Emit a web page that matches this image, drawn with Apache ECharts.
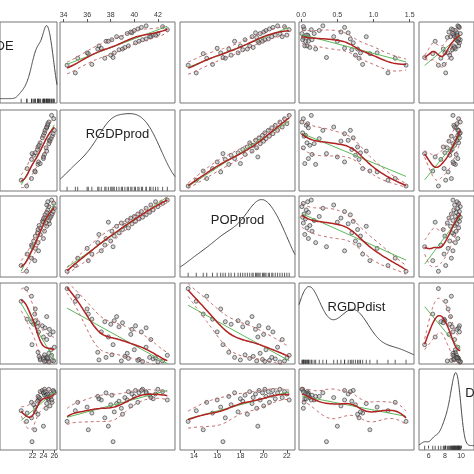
<!DOCTYPE html><html><head><meta charset="utf-8">
<script src="https://cdn.jsdelivr.net/npm/echarts@6/dist/echarts.min.js"></script>
<style>html,body{margin:0;background:#fff}#c{width:474px;height:474px}</style></head><body><div id="c"></div>
<script>
const varNames=['GDE','RGDPprod','POPprod','RGDPdist','Dist'];
const GDE=[20.9,19.9,22.4,21.8,21.0,23.1,22.5,21.8,23.0,22.2,24.0,22.5,23.4,22.9,24.2,23.0,23.4,24.6,23.2,25.1,24.5,23.8,25.0,24.0,25.2,24.2,25.4,24.3,25.6,24.6,25.8,24.8,26.0,25.0,24.6,25.9,24.8,25.5,21.9,24.0];
const RGDPprod=[34.3,35.0,36.1,35.2,36.4,37.2,36.0,37.5,36.9,38.0,37.6,38.3,37.0,38.7,38.1,39.0,39.5,38.5,39.2,39.8,38.9,40.1,39.4,40.4,39.7,40.7,40.0,41.0,40.3,41.3,40.6,41.6,41.0,42.0,41.4,42.4,41.8,42.8,38.2,37.8];
const POPprod=[13.5,14.2,14.8,15.1,15.6,16.0,16.3,16.7,17.0,17.2,17.5,17.8,18.0,18.2,18.4,18.6,18.8,19.0,19.1,19.3,19.4,19.6,19.7,19.9,20.0,20.1,20.2,20.4,20.5,20.7,20.8,21.0,21.2,21.4,21.6,21.8,22.0,22.2,16.5,19.5];
const RGDPdist=[1.45,1.20,0.95,1.30,0.85,0.60,1.05,0.80,0.20,0.75,0.10,0.82,0.05,0.70,0.15,0.78,0.08,0.90,0.12,0.65,0.03,0.72,0.18,0.06,0.55,0.02,0.25,0.68,0.04,0.10,0.60,0.07,0.30,0.01,0.45,0.03,0.09,0.14,0.35,0.50];
const Dist=[7.2,8.1,6.5,8.8,7.9,9.0,8.4,7.5,9.3,8.6,9.6,8.0,9.1,8.9,9.4,7.8,9.7,8.7,9.2,9.5,8.3,9.8,9.0,9.6,8.5,9.9,9.3,9.7,8.8,9.4,9.8,9.1,9.6,9.9,9.2,9.7,9.5,9.0,5.5,6.8];
const ranges=[[16,26.5],[33.7,43.45],[12.8,22.7],[-0.03,1.56],[4.8,11.6]];
const tickVals=[[22,24,26],[34,36,38,40,42],[14,16,18,20,22],[0,0.5,1,1.5],[6,8,10]];
const vars=[GDE,RGDPprod,POPprod,RGDPdist,Dist];
const colL=[-58,60,180,299,419], rowT=[22,110,196,283,369], W=115, H=81;

function linfit(x,y){const n=x.length;let mx=0,my=0;for(let i=0;i<n;i++){mx+=x[i];my+=y[i];}mx/=n;my/=n;let sxy=0,sxx=0;for(let i=0;i<n;i++){sxy+=(x[i]-mx)*(y[i]-my);sxx+=(x[i]-mx)**2;}const b=sxy/sxx;return [b,my-b*mx];}
function smooth(x,y){const lo=Math.min(...x),hi=Math.max(...x),h=(hi-lo)*0.12;const m=[],up=[],dn=[];
 for(let k=0;k<=30;k++){const x0=lo+(hi-lo)*k/30;let sw=0,swx=0,swy=0,swxx=0,swxy=0;
  for(let i=0;i<x.length;i++){const w=Math.exp(-0.5*((x[i]-x0)/h)**2);sw+=w;swx+=w*x[i];swy+=w*y[i];swxx+=w*x[i]*x[i];swxy+=w*x[i]*y[i];}
  const d=sw*swxx-swx*swx;const b=(sw*swxy-swx*swy)/d;const a=(swy-b*swx)/sw;const f=a+b*x0;
  let sr=0;for(let i=0;i<x.length;i++){const w=Math.exp(-0.5*((x[i]-x0)/h)**2);const r=y[i]-(a+b*x[i]);sr+=w*r*r;}
  const s=Math.sqrt(sr/sw);m.push([x0,f]);up.push([x0,f+s]);dn.push([x0,f-s]);}
 return [m,up,dn];}
function kde(x,r){const n=x.length;let mx=x.reduce((a,b)=>a+b)/n;let sd=Math.sqrt(x.reduce((a,b)=>a+(b-mx)**2,0)/n);const h=1.06*sd*Math.pow(n,-0.2)*0.8;const out=[];
 for(let k=0;k<=60;k++){const x0=r[0]+(r[1]-r[0])*k/60;let s=0;for(const v of x)s+=Math.exp(-0.5*((v-x0)/h)**2);out.push([x0,s/(n*h*2.5066)]);}return out;}

const grid=[],xAxis=[],yAxis=[],series=[],graphic=[];let gi=0;
for(let r=0;r<5;r++)for(let c=0;c<5;c++){
 grid.push({left:colL[c],top:rowT[r],width:W,height:H,show:true,borderColor:'#777',borderWidth:1,backgroundColor:'transparent'});
 const topLab=(r===0&&(c===1||c===3)), botLab=(r===4&&(c===0||c===2||c===4));
 const lab={show:topLab||botLab,fontSize:7,color:'#333',margin:3,customValues:tickVals[c],formatter:v=>c===3?v.toFixed(1):String(v)};
 xAxis.push({gridIndex:gi,type:'value',min:ranges[c][0],max:ranges[c][1],position:topLab?'top':'bottom',
  axisLine:{show:false},splitLine:{show:false},axisTick:{show:topLab||botLab,length:3,customValues:tickVals[c],lineStyle:{color:'#555'}},axisLabel:lab});
 if(r===c){
  const d=kde(vars[c],ranges[c]);const pk=Math.max(...d.map(p=>p[1]));
  yAxis.push({gridIndex:gi,type:'value',min:-pk*0.06,max:pk*1.05,show:false});
  series.push({type:'line',xAxisIndex:gi,yAxisIndex:gi,data:d,showSymbol:false,smooth:true,lineStyle:{color:'#444',width:1},silent:true});
  series.push({type:'scatter',xAxisIndex:gi,yAxisIndex:gi,data:vars[c].map(v=>[v,-pk*0.03]),symbol:'rect',symbolSize:[1,4],itemStyle:{color:'#333'},silent:true});
  graphic.push({type:'text',x:colL[c]+W/2,y:rowT[r]+H*0.3,style:{text:varNames[c],fill:'#222',font:'13px Arial',align:'center',verticalAlign:'middle'}});
 }else{
  const yr=ranges[r];
  yAxis.push({gridIndex:gi,type:'value',min:yr[0],max:yr[1],show:false});
  const x=vars[c],y=vars[r];
  const pts=x.map((v,i)=>[v,y[i]]);
  series.push({type:'scatter',xAxisIndex:gi,yAxisIndex:gi,data:pts,symbol:'circle',symbolSize:4,itemStyle:{color:'rgba(150,150,150,0.5)',borderColor:'#333',borderWidth:0.8},silent:true});
  const [b,a]=linfit(x,y);const lo=Math.min(...x),hi=Math.max(...x);
  series.push({type:'line',xAxisIndex:gi,yAxisIndex:gi,data:[[lo,a+b*lo],[hi,a+b*hi]],showSymbol:false,lineStyle:{color:'#5cb85c',width:1},silent:true});
  const [m,up,dn]=smooth(x,y);
  series.push({type:'line',xAxisIndex:gi,yAxisIndex:gi,data:m,showSymbol:false,smooth:true,lineStyle:{color:'#b22222',width:1.5},silent:true});
  for(const s of [up,dn])series.push({type:'line',xAxisIndex:gi,yAxisIndex:gi,data:s,showSymbol:false,smooth:true,lineStyle:{color:'#c06060',width:1,type:[3,3]},silent:true});
 }
 gi++;}
const ch=echarts.init(document.getElementById('c'));
ch.setOption({animation:false,grid,xAxis,yAxis,series,graphic});
</script></body></html>
